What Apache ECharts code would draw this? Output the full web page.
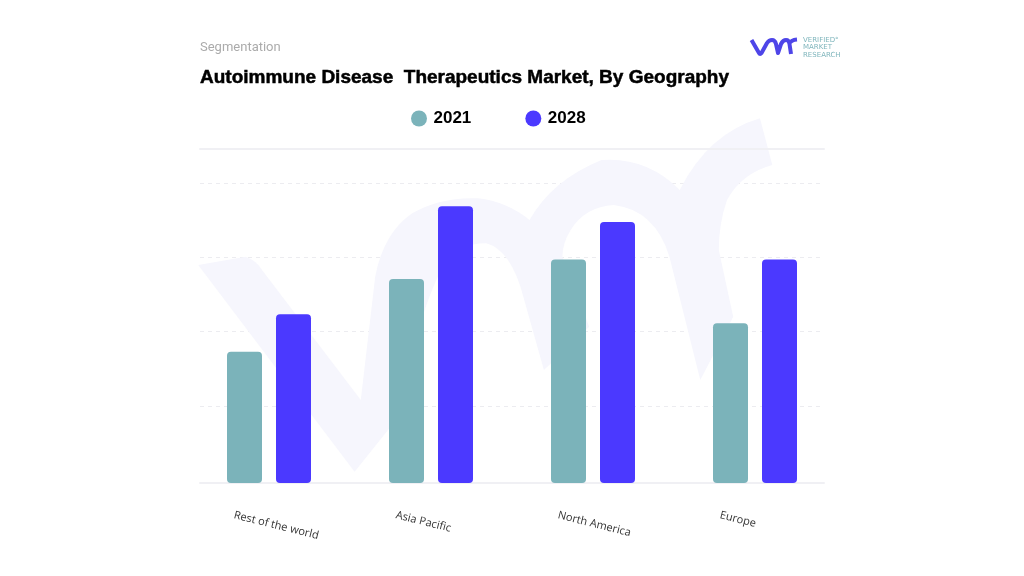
<!DOCTYPE html>
<html><head><meta charset="utf-8">
<style>html,body{margin:0;padding:0;background:#fff}#c{width:1024px;height:576px}</style>
<script src="https://cdn.jsdelivr.net/npm/echarts@6/dist/echarts.min.js"></script>
</head><body><div id="c"></div>
<script>
const categories = ['Rest of the world','Asia Pacific','North America','Europe'];
const seriesNames = ['2021','2028'];
const values2021 = [1.75,2.72,2.98,2.13];
const values2028 = [2.25,3.69,3.48,2.98];
const title = 'Autoimmune Disease  Therapeutics Market, By Geography';
const subtitle = 'Segmentation';
const TEAL='#7BB3BA', BLUE='#4B39FF', LINE='#F0F0F4', YMAX=4.46;
const watermark='M20 465 L135 440 Q160 450 175 480 L415 870 L450 500 Q470 370 540 310 Q610 260 700 265 Q770 275 825 330 Q880 210 1000 150 Q1110 140 1190 240 Q1260 70 1385 25 L1415 165 Q1340 190 1305 270 Q1285 340 1285 420 L1320 620 L1240 810 L1165 440 Q1130 300 1030 285 Q960 290 925 360 Q905 400 905 440 L970 650 L860 780 L810 560 Q780 420 720 400 Q650 400 620 460 Q590 520 560 640 L520 900 L400 1085 Z';
const logo='M751.5 40 L759 53 Q760 55 761.5 53 L767 43 Q769 40 772 40 Q775 40 776 44 L778 53 L781 44 Q783 40 786 40 Q789 40 789.5 44 L791 54 M789 44 Q791 40 797 39.5';
const chart=echarts.init(document.getElementById('c'),null,{renderer:'canvas'});
const hiddenY={type:'value',min:0,max:YMAX,interval:1,axisLine:{show:false},axisTick:{show:false},axisLabel:{show:false},splitLine:{show:false}};
const hiddenX={type:'category',data:categories,axisLine:{show:false},axisTick:{show:false},axisLabel:{show:false},splitLine:{show:false}};
chart.setOption({
 animation:false,
 backgroundColor:'#fff',
 title:[
  {text:subtitle,left:195,top:36.5,textStyle:{fontFamily:'Roboto',fontSize:13,fontWeight:'normal',color:'#ABABAB'}},
  {text:title,left:195,top:63,textStyle:{fontFamily:'Liberation Sans',fontSize:19,fontWeight:'bold',color:'#000',textBorderColor:'#000',textBorderWidth:0.5}}
 ],
 legend:{data:seriesNames,left:406,top:105,icon:'circle',itemWidth:16,itemHeight:16,itemGap:54,
  textStyle:{fontFamily:'Liberation Sans',fontSize:17,fontWeight:'bold',color:'#000',padding:[0,0,0,1.5]}},
 grid:[
  {left:200,width:624,top:148.5,height:334.5},
  {left:188,width:648,top:148.5,height:334.5},
  {left:153,width:648,top:148.5,height:334.5},
  {left:200,width:624,top:183,height:297.2}
 ],
 xAxis:[
  {gridIndex:0,type:'category',data:categories,position:'bottom',axisLine:{lineStyle:{color:LINE,width:2}},axisTick:{show:false},axisLabel:{show:false},splitLine:{show:false}},
  {gridIndex:0,type:'category',data:categories,position:'top',axisLine:{lineStyle:{color:LINE,width:2}},axisTick:{show:false},axisLabel:{show:false},splitLine:{show:false}},
  Object.assign({gridIndex:1},hiddenX),
  {gridIndex:2,type:'category',data:categories,axisLine:{show:false},axisTick:{show:false},splitLine:{show:false},
   axisLabel:{show:true,interval:0,rotate:-14,align:'left',verticalAlign:'middle',margin:32,fontFamily:'Open Sans',fontSize:11,color:'#333'}},
  Object.assign({gridIndex:3},hiddenX)
 ],
 yAxis:[
  Object.assign({gridIndex:0},hiddenY),
  Object.assign({gridIndex:1},hiddenY),
  Object.assign({gridIndex:2},hiddenY),
  {gridIndex:3,type:'value',min:0,max:4,interval:1,axisLine:{show:false},axisTick:{show:false},axisLabel:{show:false},
   splitLine:{show:true,showMinLine:false,lineStyle:{color:'#ECECF0',type:[4,4],width:1}}}
 ],
 series:[
  {type:'custom',coordinateSystem:'none',silent:true,z:0,data:[0],renderItem:function(){
    return {type:'group',children:[
     {type:'path',x:190,y:110,scaleX:1/2.43,scaleY:1/3,shape:{pathData:watermark},style:{fill:'#F6F6FD'}},
     {type:'path',shape:{pathData:logo},style:{fill:'none',stroke:'#4E45E8',lineWidth:4,lineCap:'butt',lineJoin:'round'}}
    ]};
  }},
  {name:seriesNames[0],type:'bar',xAxisIndex:2,yAxisIndex:1,data:values2021,barWidth:35,barGap:'40%',z:3,itemStyle:{color:TEAL,borderRadius:4}},
  {name:seriesNames[1],type:'bar',xAxisIndex:2,yAxisIndex:1,data:values2028,barWidth:35,barGap:'40%',z:3,itemStyle:{color:BLUE,borderRadius:4}}
 ],
 graphic:[
  {type:'text',z:5,x:803,y:36,style:{text:'VERIFIED\u00B0\nMARKET\nRESEARCH',fontFamily:'DejaVu Sans',fontSize:7,lineHeight:7.5,fill:'#7FB5BC',letterSpacing:1.6}}
 ]
});
</script></body></html>
